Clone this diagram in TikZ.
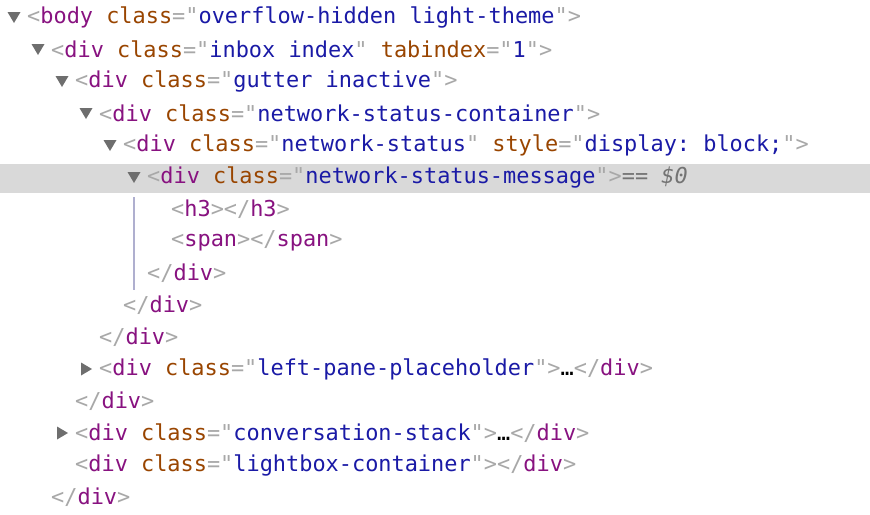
\documentclass[tikz,border=0pt]{standalone}
\usepackage{fontspec}
\setmonofont{DejaVu Sans Mono}
\definecolor{tagc}{HTML}{881280}
\definecolor{attn}{HTML}{994500}
\definecolor{attv}{HTML}{1A1AA6}
\definecolor{brk}{HTML}{A8A8A8}
\definecolor{tri}{HTML}{6E6E6E}
\newcommand\Q{\symbol{34}}
\newcommand\ot[1]{\textcolor{brk}{<}\textcolor{tagc}{#1}}
\newcommand\ct[1]{\textcolor{brk}{</}\textcolor{tagc}{#1}\textcolor{brk}{>}}
\newcommand\at[2]{ \textcolor{attn}{#1}\textcolor{brk}{=\Q}\textcolor{attv}{#2}\textcolor{brk}{\Q}}
\newcommand\gt{\textcolor{brk}{>}}
\begin{document}
\begin{tikzpicture}[x=1pt,y=-1pt,
  ln/.style={anchor=west,inner sep=0pt,font=\ttfamily\fontsize{21.9}{24}\selectfont},
  tdown/.style={fill=tri,draw=none},
  tright/.style={fill=tri,draw=none}]
\useasboundingbox (0,0) rectangle (870,514);
\fill[white] (0,0) rectangle (870,514);
\fill[black!15] (0,164) rectangle (870,193);
\draw[color=blue!25!gray!50,line width=1.2pt] (134,197) -- (134,290);
\node[ln] (l1) at (27,17) {\ot{body}\at{class}{overflow-hidden light-theme}\gt};
\node[ln] (l2) at (51,49) {\ot{div}\at{class}{inbox index}\at{tabindex}{1}\gt};
\node[ln] (l3) at (75,81) {\ot{div}\at{class}{gutter inactive}\gt};
\node[ln] (l4) at (99,113) {\ot{div}\at{class}{network-status-container}\gt};
\node[ln] (l5) at (123,145) {\ot{div}\at{class}{network-status}\at{style}{display: block;}\gt};
\node[ln] (l6) at (147,177) {\ot{div}\at{class}{network-status-message}\gt\textcolor{black!55}{ == \textit{\$0}}};
\node[ln] (l7) at (171,209) {\ot{h3}\gt\ct{h3}};
\node[ln] (l8) at (171,241) {\ot{span}\gt\ct{span}};
\node[ln] (l9) at (147,273) {\ct{div}};
\node[ln] (l10) at (123,305) {\ct{div}};
\node[ln] (l11) at (99,337) {\ct{div}};
\node[ln] (l12) at (99,369) {\ot{div}\at{class}{left-pane-placeholder}\gt…\ct{div}};
\node[ln] (l13) at (75,401) {\ct{div}};
\node[ln] (l14) at (75,433) {\ot{div}\at{class}{conversation-stack}\gt…\ct{div}};
\node[ln] (l15) at (75,465) {\ot{div}\at{class}{lightbox-container}\gt\ct{div}};
\node[ln] (l16) at (51,497) {\ct{div}};
\foreach \x/\y in {14/17,38/49,62/81,86/113,110/145,134/177}
  \fill[tri] (\x-6.5,\y-5) -- (\x+6.5,\y-5) -- (\x,\y+6) -- cycle;
\foreach \x/\y in {86/369,62/433}
  \fill[tri] (\x-5,\y-6.5) -- (\x-5,\y+6.5) -- (\x+6,\y) -- cycle;
\end{tikzpicture}
\end{document}
